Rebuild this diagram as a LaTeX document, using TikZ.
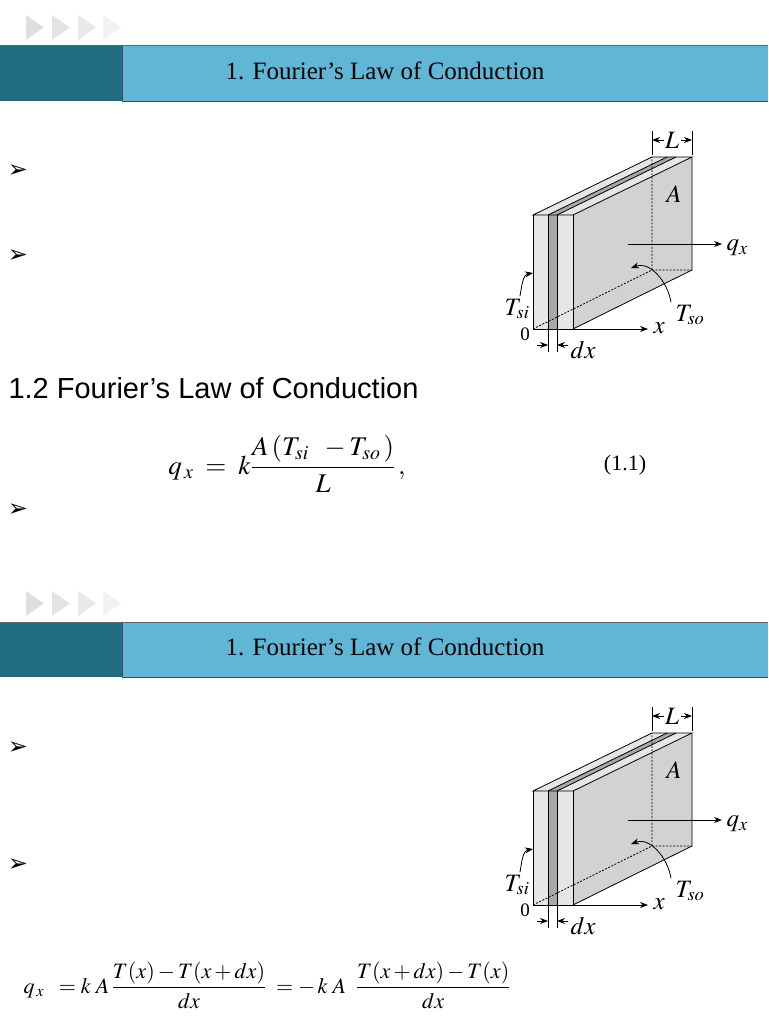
\documentclass[tikz,border=0pt]{standalone}
\usepackage{amsmath}
\usepackage{mathptmx}
\usepackage{fontspec}
\setmainfont{Liberation Serif}
\newfontfamily\arialf{Liberation Sans}
\newfontfamily\dejav{DejaVu Sans}
\usetikzlibrary{arrows.meta}
\definecolor{teal1}{HTML}{226C82}
\definecolor{blue1}{HTML}{62B6D5}
\definecolor{slabL}{HTML}{E6E6E6}
\definecolor{slabM}{HTML}{D2D2D2}
\definecolor{slabD}{HTML}{A8A8A8}
\tikzset{lbl/.style={font=\fontsize{25}{27}\selectfont},
 thin1/.style={line width=0.8pt},
 arr/.style={-{Stealth[length=8pt,width=6pt]},line width=0.8pt},
 bul/.style={font=\dejav\fontsize{24}{26}\selectfont}}
\newcommand\myheader[1]{%
 \begin{scope}[shift={(0,#1)}]
 \fill[gray!25] (26,15)--(44,27.5)--(26,40)--cycle;
 \fill[gray!22] (52,15)--(70,27.5)--(52,40)--cycle;
 \fill[gray!17] (78,15)--(96,27.5)--(78,40)--cycle;
 \fill[gray!10] (103,15)--(121,27.5)--(103,40)--cycle;
 \fill[teal1] (0,46) rectangle (122,101);
 \fill[blue1] (122,46) rectangle (768,101);
 \draw[line width=1pt,gray!80!black] (0,46)--(768,46);
 \draw[line width=0.8pt,black!70] (122,46)--(122,101)--(768,101);
 \node[font=\fontsize{25}{27}\selectfont] (t#1) at (385,71) {1. Fourier’s Law of Conduction};
 \end{scope}}
\newcommand\myslab[1]{%
 \begin{scope}[shift={(0,#1)}]
 \fill[slabM] (573,215)--(692,157)--(692,270)--(573,329)--cycle;
 \fill[slabL] (533,215)--(573,215)--(692,157)--(652,157)--cycle;
 \fill[slabL] (533,215) rectangle (573,329);
 \fill[slabD] (548,215) rectangle (557,329);
 \fill[slabD] (548,215)--(557,215)--(676,157)--(667,157)--cycle;
 \draw[thin1] (548,215)--(548,329) (557,215)--(557,329);
 \draw[thin1] (548,215)--(667,157) (557,215)--(676,157);
 \draw[thin1] (533,215)--(573,215)--(692,157)--(652,157)--cycle;
 \draw[thin1] (533,215)--(533,329)--(573,329)--(573,215);
 \draw[thin1] (573,329)--(692,270)--(692,157);
 \draw[thin1,dashed,dash pattern=on 2pt off 1.5pt] (533,329)--(652,270)--(652,157) (652,270)--(692,270);
 \draw[thin1] (652,155)--(652,131) (692,155)--(692,131);
 \draw[arr] (664,140)--(652,140); \draw[arr] (681,140)--(692,140);
 \node[lbl,fill=white,inner sep=0.5pt] at (672,140) {$L$};
 \node[lbl] at (674,194) {$A$};
 \draw[arr] (628,244)--(722,244);
 \node[lbl,anchor=west] at (723,248) {$q_x$};
 \draw[arr] (520,296) to[out=80,in=190] (533,273);
 \node[lbl,inner sep=0pt] at (517,309) {$T_{si}$};
 \draw[arr] (671,302) to[out=100,in=20] (631,268);
 \node[lbl] at (690,315) {$T_{so}$};
 \draw[arr] (573,329)--(648,329);
 \node[lbl,anchor=west] at (650,328) {$x$};
 \node[font=\fontsize{19}{20}\selectfont,inner sep=0pt] at (525,334) {0};
 \draw[thin1] (548,329)--(548,352) (557,329)--(557,352);
 \draw[arr] (537,345)--(548,345); \draw[arr] (568,345)--(557,345);
 \node[lbl,anchor=west] at (567,350) {$dx$};
 \end{scope}}
\begin{document}
\begin{tikzpicture}[x=1pt,y=-1pt]
\useasboundingbox (0,0) rectangle (768,1024);
\myheader{0}
\myheader{576}
\myslab{0}
\myslab{576}
\node[bul] (b1) at (18,171) {➢};
\node[bul] (b2) at (18,256) {➢};
\node[bul] (b3) at (18,510) {➢};
\node[bul] (b4) at (18,748) {➢};
\node[bul] (b5) at (18,865) {➢};
\node[font=\arialf\fontsize{29}{32}\selectfont,anchor=west] (h12) at (5,388) {1.2 Fourier’s Law of Conduction};
\node[font=\fontsize{27}{30}\selectfont] (eq1) at (287,464) {$q_{\,x} \;=\; k\dfrac{A\,(T_{si}\;\;-T_{so}\,)}{L}\,,$};
\node[font=\fontsize{22}{24}\selectfont] (n11) at (625,465) {(1.1)};
\node[font=\fontsize{22}{26}\selectfont,anchor=west] (eq2) at (20,985) {$q_{\,x}\;\;=k\;A\,\dfrac{T(x)-T(x+dx)}{dx}\;=-\,k\;A\;\;\dfrac{T(x+dx)-T(x)}{dx}$};
\end{tikzpicture}
\end{document}
